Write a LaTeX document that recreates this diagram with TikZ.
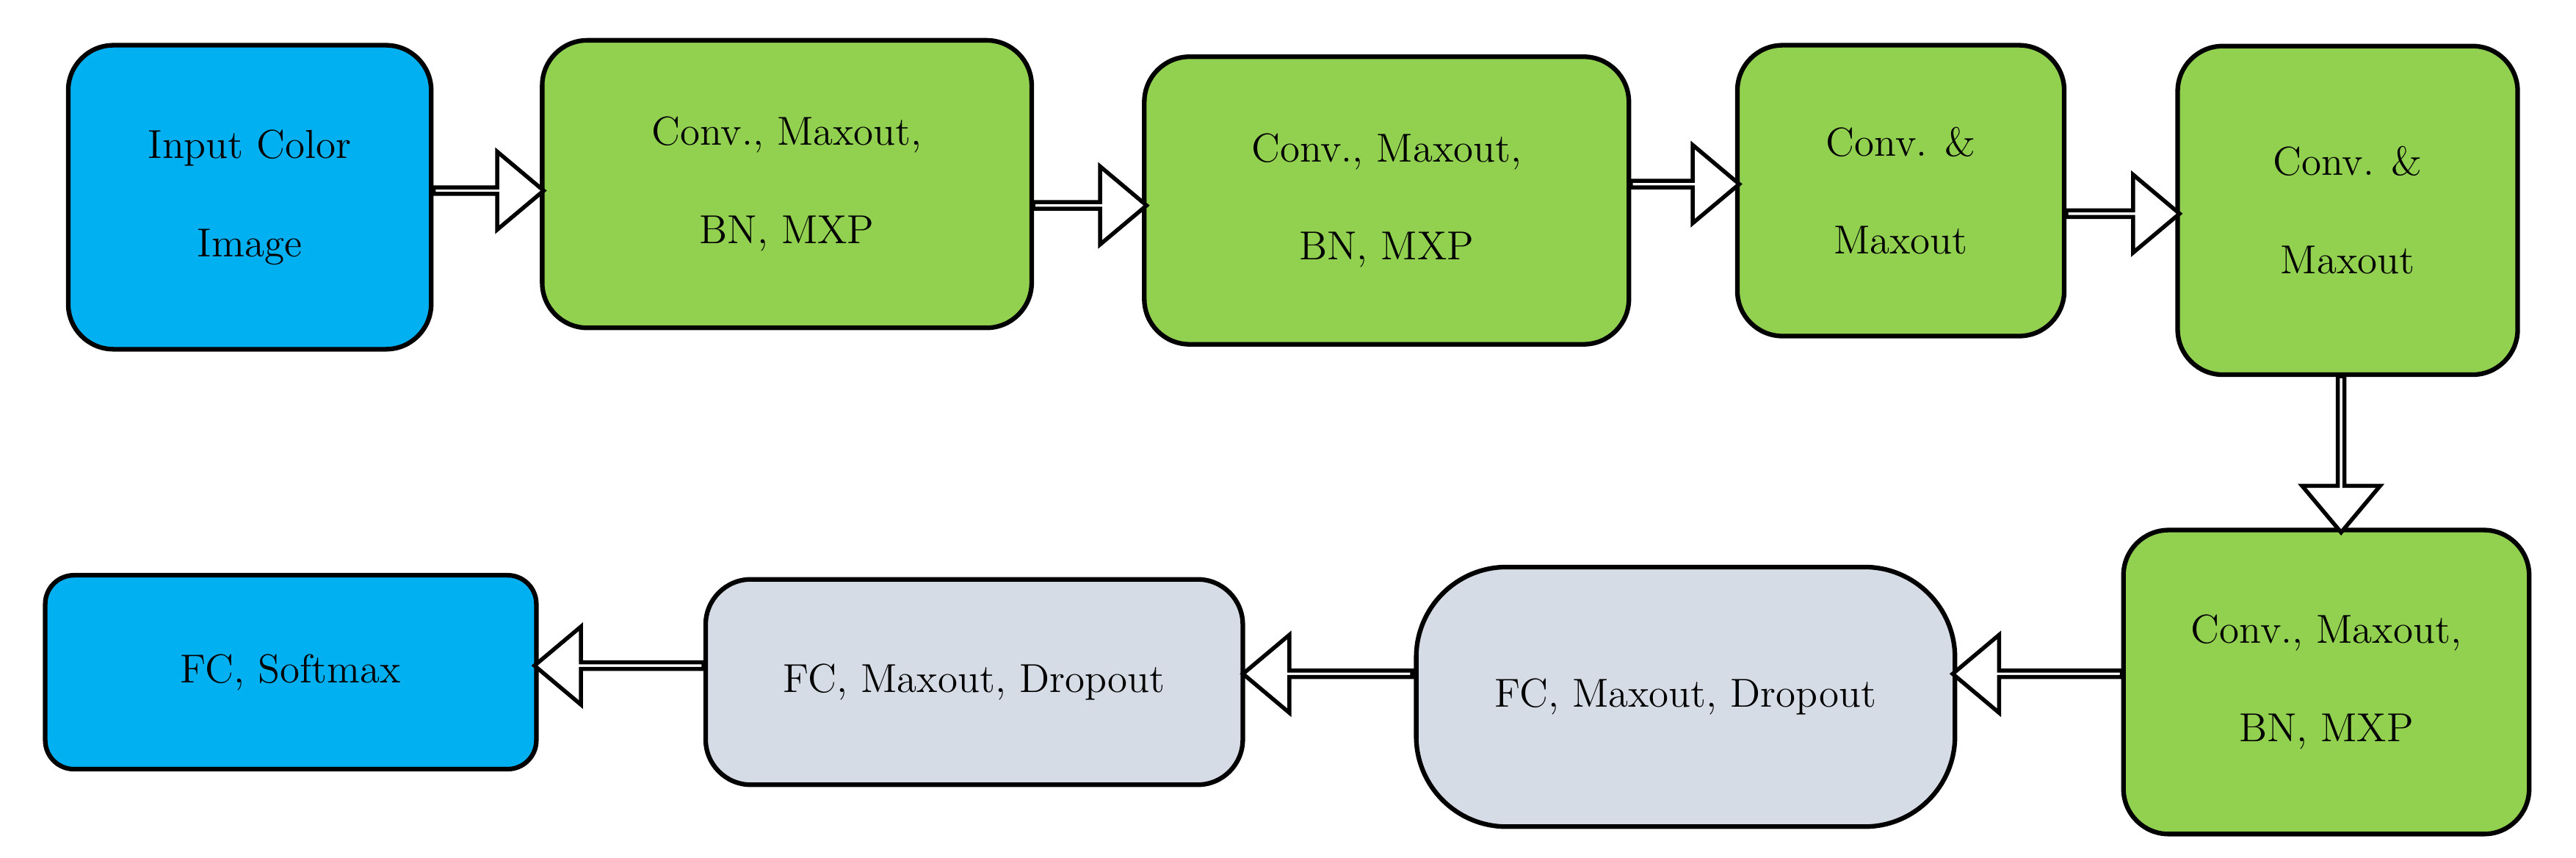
\documentclass[tikz,border=0pt]{standalone}
\usetikzlibrary{shapes.arrows,calc}
\definecolor{boxcyan}{RGB}{0,176,240}
\definecolor{boxgreen}{RGB}{146,208,80}
\definecolor{boxgray}{RGB}{214,220,229}
\tikzset{
  block/.style={draw,line width=1.6pt,rounded corners=0.55cm,align=center,
    font=\fontsize{14}{34}\selectfont,inner sep=0pt},
  blk/.style={single arrow,draw,fill=white,line width=1.4pt,minimum width=0.95cm,
    single arrow head extend=0.27cm,single arrow tip angle=80,inner sep=0pt,
    shape border uses incircle=false}
}
\begin{document}
\begin{tikzpicture}[x=0.02cm,y=-0.02cm]
  \useasboundingbox (0,0) rectangle (1568,522);
  % top row
  \node[block,fill=boxcyan,minimum width=4.42cm,minimum height=3.7cm] (in) at (152,120) {Input Color\\Image};
  \node[block,fill=boxgreen,minimum width=5.96cm,minimum height=3.5cm] (c1) at (479,112) {Conv., Maxout,\\BN, MXP};
  \node[block,fill=boxgreen,minimum width=5.9cm,minimum height=3.5cm] (c2) at (844,122) {Conv., Maxout,\\BN, MXP};
  \node[block,fill=boxgreen,minimum width=3.98cm,minimum height=3.54cm] (c3) at (1157,116) {Conv. \&\\Maxout};
  \node[block,fill=boxgreen,minimum width=4.14cm,minimum height=4cm] (c4) at (1429,128) {Conv. \&\\Maxout};
  % bottom row
  \node[block,fill=boxgreen,minimum width=4.94cm,minimum height=3.7cm] (c5) at (1416,415) {Conv., Maxout,\\BN, MXP};
  \node[block,fill=boxgray,rounded corners=1.1cm,minimum width=6.56cm,minimum height=3.16cm] (f1) at (1026,424) {FC, Maxout, Dropout};
  \node[block,fill=boxgray,minimum width=6.54cm,minimum height=2.5cm] (f2) at (593,415) {FC, Maxout, Dropout};
  \node[block,fill=boxcyan,rounded corners=0.35cm,minimum width=5.98cm,minimum height=2.36cm] (out) at (177,409) {FC, Softmax};
  % block arrows
  \node[blk,minimum height=1.34cm] at ($(in.east)!0.5!(c1.west)+(0,0)$) {};
  \node[blk,minimum height=1.38cm] at ($(c1.east|-0,125)!0.5!(c2.west|-0,125)$) {};
  \node[blk,minimum height=1.32cm] at ($(c2.east|-0,112)!0.5!(c3.west|-0,112)$) {};
  \node[blk,minimum height=1.38cm] at ($(c3.east|-0,130)!0.5!(c4.west|-0,130)$) {};
  \node[blk,minimum height=1.9cm,rotate=-90] at ($(c4.south-|1425,0)!0.5!(c5.north-|1425,0)$) {};
  \node[blk,minimum height=2.06cm,rotate=180] at ($(c5.west|-0,410)!0.5!(f1.east|-0,410)$) {};
  \node[blk,minimum height=2.06cm,rotate=180] at ($(f1.west|-0,410)!0.5!(f2.east|-0,410)$) {};
  \node[blk,minimum height=2.06cm,rotate=180] at ($(f2.west|-0,405)!0.5!(out.east|-0,405)$) {};
\end{tikzpicture}
\end{document}
